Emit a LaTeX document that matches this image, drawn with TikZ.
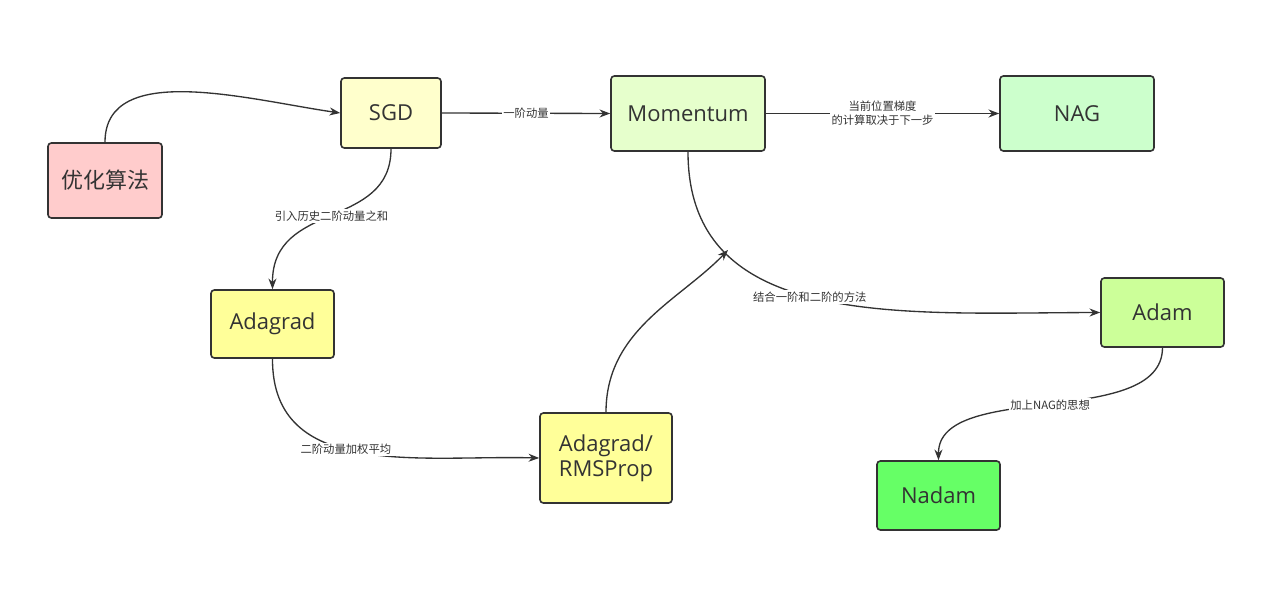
\documentclass[tikz,border=0pt]{standalone}
\usepackage{fontspec}
\setmainfont{Open Sans}
\newfontfamily\cjk{Noto Sans CJK SC}
\usetikzlibrary{arrows.meta}
\definecolor{c1}{HTML}{FFCCCC}
\definecolor{c2}{HTML}{FFFFCC}
\definecolor{c3}{HTML}{E6FFCC}
\definecolor{c4}{HTML}{CCFFCC}
\definecolor{c5}{HTML}{FFFF99}
\definecolor{c6}{HTML}{CCFF99}
\definecolor{c7}{HTML}{66FF66}
\definecolor{ln}{HTML}{333333}
\begin{document}
\begin{tikzpicture}[x=0.75pt,y=-0.75pt,
 box/.style={draw=ln,line width=1.2pt,rounded corners=2.5pt,inner sep=0pt,align=center,font=\fontsize{16.5}{19}\selectfont,text=ln},
 lab/.style={fill=white,inner sep=1pt,font=\cjk\fontsize{8.5}{10.5}\selectfont,text=ln,align=center},
 con/.style={draw=ln,line width=1pt,-{Stealth[length=8pt,width=6pt]}}]
\useasboundingbox (0,0) rectangle (1286,592);
\node[box,fill=c1,minimum width=85.5pt,minimum height=56.25pt,font=\cjk\fontsize{16.5}{19}\selectfont] (opt) at (105,180.5) {优化算法};
\node[box,fill=c2,minimum width=75pt,minimum height=52.5pt] (sgd) at (391,113) {SGD};
\node[box,fill=c3,minimum width=115.5pt,minimum height=56.25pt] (mom) at (688,113.5) {Momentum};
\node[box,fill=c4,minimum width=115.5pt,minimum height=56.25pt] (nag) at (1077,113.5) {NAG};
\node[box,fill=c5,minimum width=92.25pt,minimum height=51pt] (ada) at (272.5,324) {Adagrad};
\node[box,fill=c5,minimum width=99pt,minimum height=67.5pt] (rms) at (606,458) {Adagrad/\\RMSProp};
\node[box,fill=c6,minimum width=92.25pt,minimum height=51.75pt] (adam) at (1162.5,312.5) {Adam};
\node[box,fill=c7,minimum width=92.25pt,minimum height=51.75pt] (nadam) at (938.5,495.5) {Nadam};
\coordinate (mid) at (728,250);
\draw[con] (opt.north) .. controls (105,60) and (250,100) .. (sgd.west);
\draw[con] (sgd.east) -- node[lab]{一阶动量} (mom.west);
\draw[con] (mom.east) -- node[lab]{当前位置梯度\\的计算取决于下一步} (nag.west);
\draw[con] (sgd.south) .. controls (391,230) and (272,200) .. node[lab,pos=0.5]{引入历史二阶动量之和} (ada.north);
\draw[con] (ada.south) .. controls (272,480) and (420,455) .. node[lab,pos=0.45]{二阶动量加权平均} (rms.west);
\draw[con] (rms.north) .. controls (606,330) and (680,300) .. (mid);
\draw[con] (mom.south) .. controls (688,330) and (900,313) .. node[lab,pos=0.48]{结合一阶和二阶的方法} (adam.west);
\draw[con] (adam.south) .. controls (1162,430) and (938,380) .. node[lab,pos=0.5]{加上NAG的思想} (nadam.north);
\end{tikzpicture}
\end{document}
